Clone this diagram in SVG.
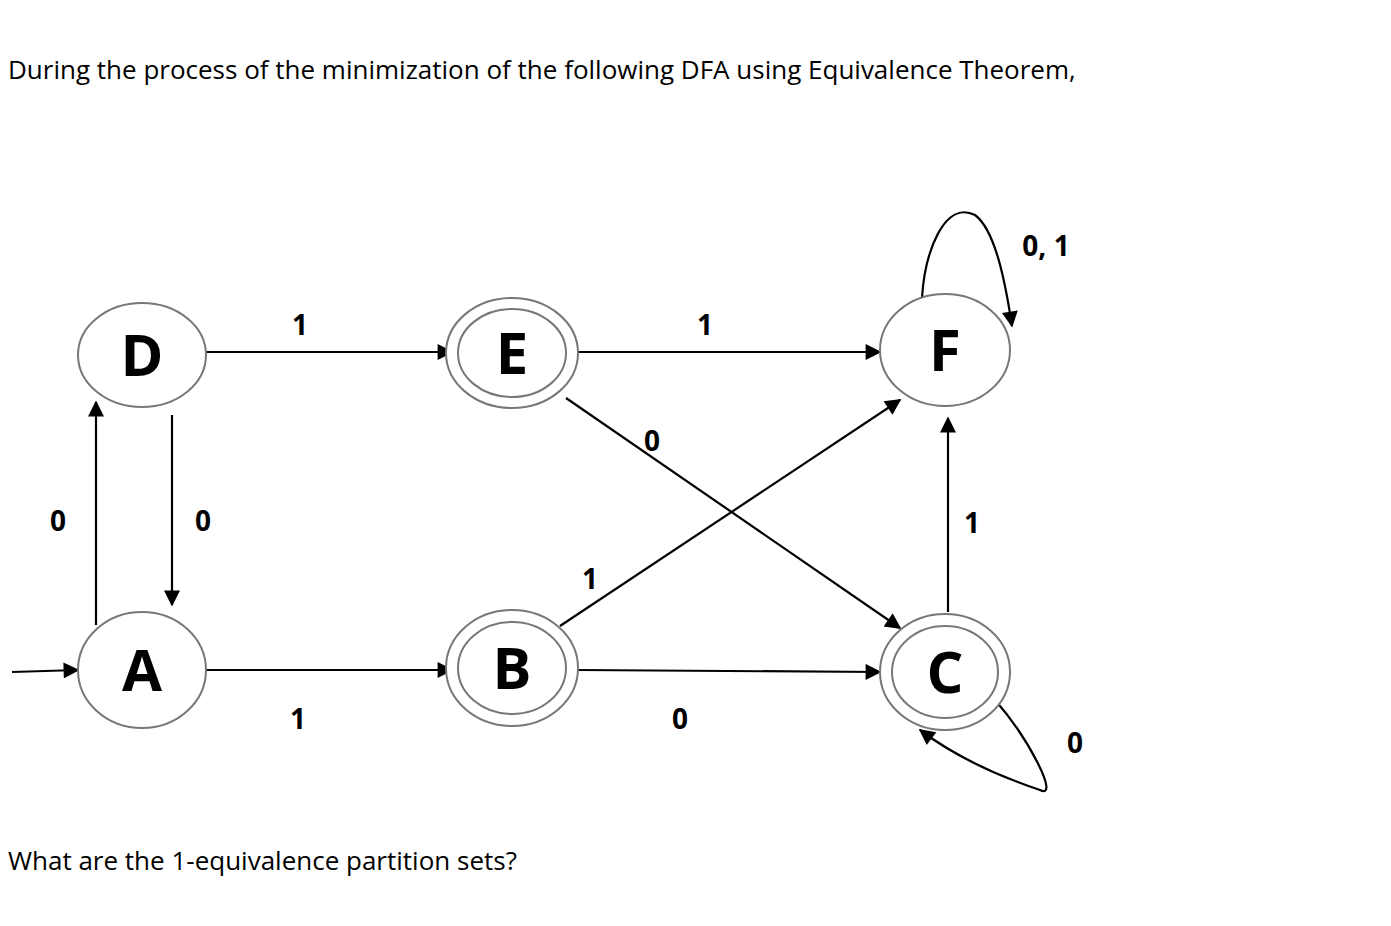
<svg xmlns="http://www.w3.org/2000/svg" width="1391" height="926" viewBox="0 0 1391 926">
<defs>
<marker id="ar" viewBox="0 0 10 10" refX="9" refY="5" markerWidth="18" markerHeight="16" markerUnits="userSpaceOnUse" orient="auto"><path d="M0,0L10,5L0,10z" fill="#000"/></marker>
<style>
.n{fill:#fff;stroke:#777;stroke-width:2}
.t{font-family:"Open Sans",sans-serif;font-weight:bold;font-size:58px;text-anchor:middle}
.l{font-family:"Open Sans",sans-serif;font-weight:bold;font-size:28px;text-anchor:middle}
.e{stroke:#000;stroke-width:2.2;fill:none;marker-end:url(#ar)}
.q{font-family:"Open Sans",sans-serif;font-size:26px}
</style>
</defs>
<rect width="1391" height="926" fill="#fff"/>
<text class="q" x="8" y="79">During the process of the minimization of the following DFA using Equivalence Theorem,</text>
<text class="q" x="8" y="870">What are the 1-equivalence partition sets?</text>
<g id="edges">
<path class="e" d="M12,672L78,670"/>
<path class="e" d="M206,352L452,352"/>
<path class="e" d="M578,352L880,352"/>
<path class="e" d="M206,670L452,670"/>
<path class="e" d="M578,670L880,672"/>
<path class="e" d="M172,415L172,605"/>
<path class="e" d="M96,625L96,402"/>
<path class="e" d="M566,398L900,628"/>
<path class="e" d="M560,626L900,400"/>
<path class="e" d="M948,612L948,418"/>
<path class="e" d="M922,298C925,250 945,200 975,215C995,230 1005,280 1012,326"/>
<path class="e" d="M995,700C1030,740 1060,800 1040,790C1010,780 960,760 920,730"/>
</g>
<g id="labels">
<text class="l" x="300" y="335">1</text>
<text class="l" x="705" y="335">1</text>
<text class="l" x="298" y="729">1</text>
<text class="l" x="680" y="729">0</text>
<text class="l" x="58" y="531">0</text>
<text class="l" x="203" y="531">0</text>
<text class="l" x="652" y="451">0</text>
<text class="l" x="590" y="589">1</text>
<text class="l" x="972" y="533">1</text>
<text class="l" x="1046" y="256">0, 1</text>
<text class="l" x="1075" y="753">0</text>
</g>
<g id="D"><ellipse class="n" cx="142" cy="355" rx="64" ry="52"/><text class="t" x="142" y="376">D</text></g>
<g id="A"><ellipse class="n" cx="142" cy="670" rx="64" ry="58"/><text class="t" x="142" y="691">A</text></g>
<g id="E"><ellipse class="n" cx="512" cy="353" rx="66" ry="55"/><ellipse class="n" cx="512" cy="353" rx="54" ry="44"/><text class="t" x="512" y="374">E</text></g>
<g id="B"><ellipse class="n" cx="512" cy="668" rx="66" ry="58"/><ellipse class="n" cx="512" cy="668" rx="54" ry="46"/><text class="t" x="512" y="689">B</text></g>
<g id="F"><ellipse class="n" cx="945" cy="350" rx="65" ry="56"/><text class="t" x="945" y="371">F</text></g>
<g id="C"><ellipse class="n" cx="945" cy="672" rx="65" ry="58"/><ellipse class="n" cx="945" cy="672" rx="53" ry="46"/><text class="t" x="945" y="693">C</text></g>
</svg>
